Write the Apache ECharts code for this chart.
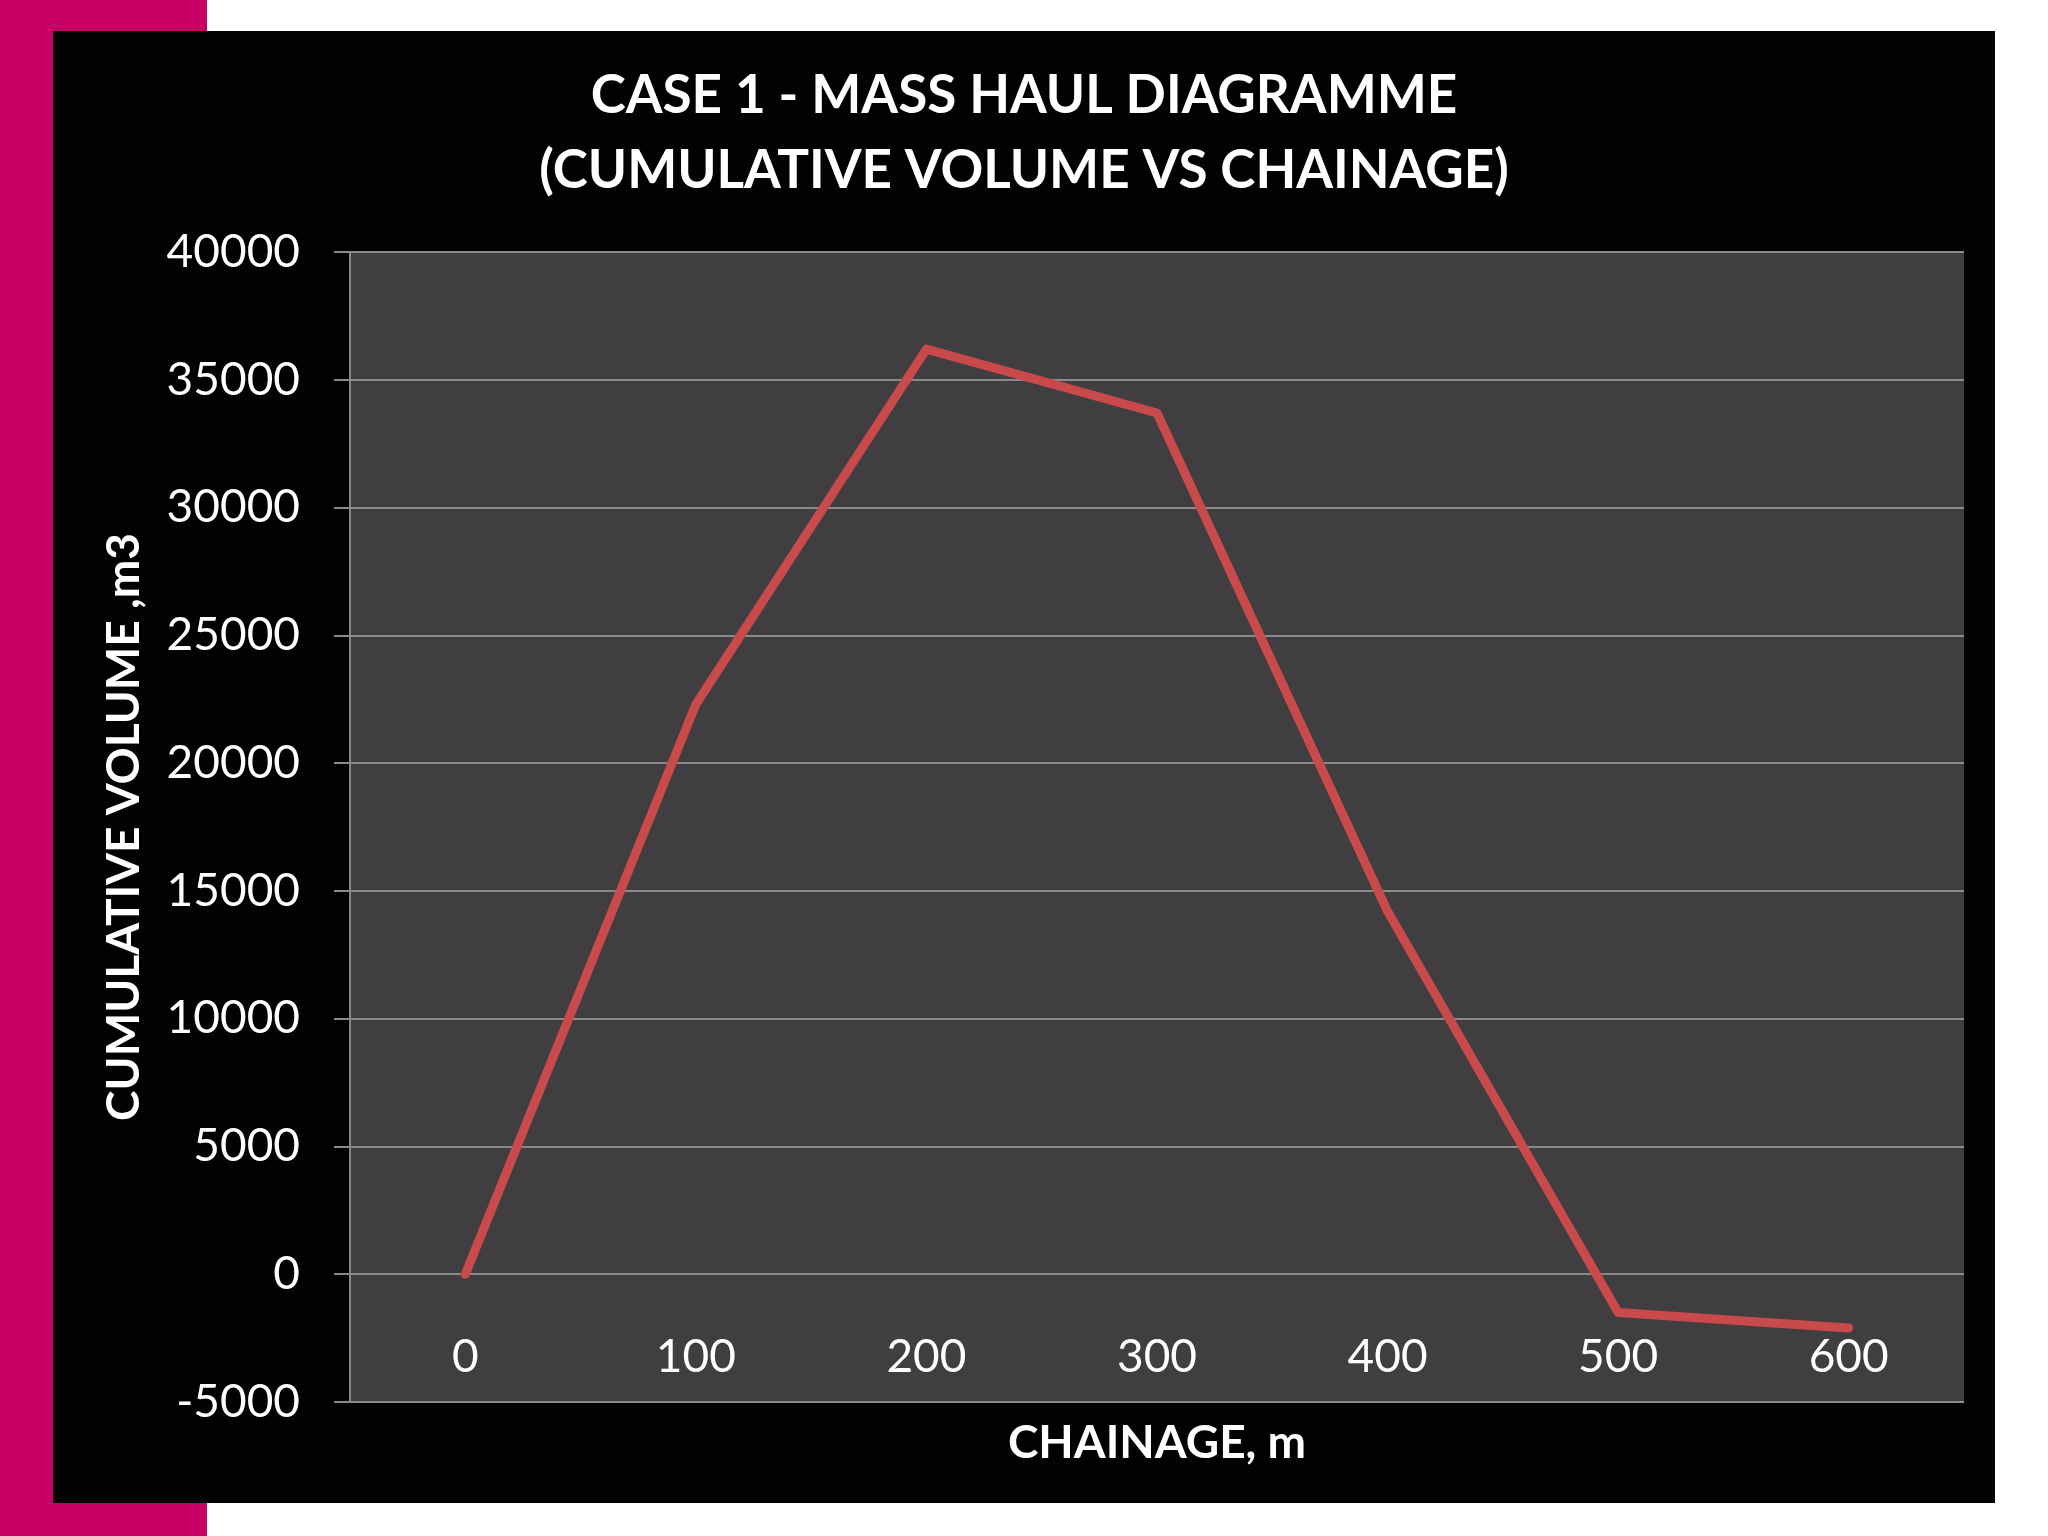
<!DOCTYPE html>
<html>
<head>
<meta charset="utf-8">
<script src="https://cdn.jsdelivr.net/npm/echarts@6/dist/echarts.min.js"></script>
<style>
html,body{margin:0;padding:0;background:#fff;}
#chart{width:2048px;height:1536px;}
</style>
</head>
<body>
<div id="chart"></div>
<script>
const titleLines = ['CASE 1 - MASS HAUL DIAGRAMME', '(CUMULATIVE VOLUME VS CHAINAGE)'];
const chainage = ['0', '100', '200', '300', '400', '500', '600'];
const cumulativeVolume = [0, 22300, 36200, 33700, 14200, -1500, -2100];
const yAxisName = 'CUMULATIVE VOLUME ,m3';
const xAxisName = 'CHAINAGE, m';

const FONT = 'Lato, "Open Sans", sans-serif';
const chart = echarts.init(document.getElementById('chart'));
chart.setOption({
  backgroundColor: '#ffffff',
  animation: false,
  graphic: [
    { type: 'rect', z: -10, shape: { x: 0, y: 0, width: 207, height: 1536 }, style: { fill: '#C80066' } },
    { type: 'rect', z: -9, shape: { x: 53, y: 31, width: 1942, height: 1472 }, style: { fill: '#020103' } }
  ],
  title: {
    text: titleLines.join('\n'),
    left: 'center',
    top: 53,
    textStyle: { color: '#ffffff', fontFamily: FONT, fontWeight: 'bold', fontSize: 53, lineHeight: 75 }
  },
  grid: {
    left: 350, top: 252, right: 84, bottom: 134,
    outerBoundsMode: 'none',
    containLabel: false,
    show: true, backgroundColor: '#403E41', borderWidth: 0
  },
  xAxis: {
    type: 'category',
    data: chainage,
    boundaryGap: true,
    position: 'bottom',
    axisLine: { show: false, onZero: false },
    axisTick: { show: false },
    axisLabel: { color: '#ffffff', fontFamily: FONT, fontSize: 46, inside: true, margin: 22 },
    name: xAxisName,
    nameLocation: 'middle',
    nameGap: 18,
    nameTextStyle: { color: '#ffffff', fontFamily: FONT, fontWeight: 'bold', fontSize: 46 }
  },
  yAxis: {
    type: 'value',
    min: -5000, max: 40000, interval: 5000,
    axisLine: { show: true, lineStyle: { color: '#8A8A8A', width: 2 } },
    axisTick: { show: true, length: 16, lineStyle: { color: '#8A8A8A', width: 2 } },
    splitLine: { show: true, lineStyle: { color: '#8A8A8A', width: 2 } },
    axisLabel: { color: '#ffffff', fontFamily: FONT, fontSize: 46, margin: 50, formatter: function (v) { return String(v); } },
    name: yAxisName,
    nameLocation: 'middle',
    nameGap: 203,
    nameTextStyle: { color: '#ffffff', fontFamily: FONT, fontWeight: 'bold', fontSize: 46 }
  },
  series: [{
    type: 'line',
    data: cumulativeVolume,
    showSymbol: false,
    symbol: 'none',
    lineStyle: { color: '#C94A4A', width: 9, cap: 'round', join: 'round' }
  }]
});
</script>
</body>
</html>
